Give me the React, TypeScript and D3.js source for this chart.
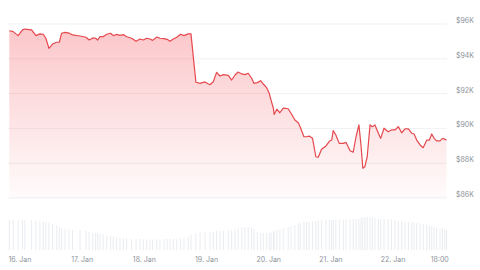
import React from "react";
import * as d3 from "d3";

// hours offset from 16 Jan 00:00 (UTC)
const hours = [
  -4.1, -2.6, -0.7, 1.0, 1.9, 4.5, 6.2, 7.7, 9.0, 10.0, 11.2, 12.6, 14.2, 15.2, 16.1, 17.4, 18.9, 20.3, 23.2, 25.5,
  26.7, 28.1, 29.2, 30.0, 30.9, 32.1, 33.5, 35.0, 36.0, 37.3, 38.6, 39.9, 41.2, 43.1, 44.8, 46.3, 47.6, 48.9, 50.2, 51.2,
  52.8, 54.0, 55.6, 56.8, 57.9, 59.2, 60.5, 62.0, 63.3, 64.9, 66.0, 67.9, 69.5, 71.4, 73.3, 74.6, 75.9, 77.2, 78.5, 80.4,
  81.7, 83.0, 84.2, 85.6, 86.8, 88.1, 89.4, 90.3, 91.6, 92.9, 93.9, 95.2, 96.2, 96.9, 97.8, 98.1, 99.1, 100.3, 101.6, 103.5,
  104.6, 106.1, 107.4, 108.1, 109.6, 110.6, 111.6, 112.9, 114.2, 115.1, 116.4, 118.1, 119.4, 120.3, 120.9, 121.9, 123.2, 124.8, 125.8, 127.4,
  128.6, 129.7, 130.8, 131.6, 132.3, 133.1, 134.0, 135.1, 136.0, 137.0, 138.3, 139.2, 140.5, 142.1, 143.4, 144.7, 146.0, 147.3, 148.6, 149.9,
  151.2, 152.1, 153.1, 154.4, 155.6, 157.0, 158.0, 158.9, 159.8, 160.8, 162.1, 163.1, 164.0, 164.6,
];

// price in $K
const prices = [
  95.61, 95.56, 95.33, 95.66, 95.71, 95.66, 95.33, 95.43, 95.41, 95.18, 94.6, 94.85, 94.95, 94.95, 95.47, 95.52, 95.48, 95.37, 95.31, 95.24,
  95.08, 95.2, 95.18, 95.08, 95.27, 95.27, 95.41, 95.47, 95.33, 95.4, 95.35, 95.39, 95.27, 95.18, 95.01, 95.14, 95.08, 95.18, 95.14, 95.06,
  95.25, 95.18, 95.16, 95.12, 95.01, 95.14, 95.24, 95.41, 95.33, 95.43, 95.43, 92.65, 92.59, 92.67, 92.51, 92.68, 93.22, 93.01, 93.09, 93.05,
  92.78, 93.07, 93.24, 93.13, 93.09, 93.17, 92.88, 92.59, 92.63, 92.74, 92.55, 92.34, 92.02, 91.63, 91.16, 90.8, 91.1, 90.9, 91.17, 91.13,
  90.87, 90.48, 90.33, 90.1, 89.52, 89.52, 89.56, 89.43, 88.37, 88.34, 88.8, 88.99, 89.26, 89.33, 89.87, 89.62, 89.14, 89.14, 89.2, 88.72,
  88.63, 89.52, 90.2, 89.05, 87.71, 87.8, 88.37, 90.2, 90.1, 90.2, 89.72, 89.43, 90.01, 89.81, 89.91, 89.91, 90.1, 89.75, 89.97, 89.97,
  89.72, 89.68, 89.33, 89.05, 88.89, 89.33, 89.33, 89.68, 89.43, 89.28, 89.28, 89.43, 89.37, 89.33,
];

// 24h volume ($B), same timestamps
const volumes = [
  60, 60, 59, 60, 59, 60, 59, 58, 57, 56, 55, 52, 49, 46, 44, 42, 41, 40, 40, 38,
  36, 35, 34, 34, 33, 31, 29, 28, 27, 25, 24, 23, 23, 22, 22, 22, 21, 21, 21, 21,
  21, 21, 22, 22, 22, 22, 22, 23, 24, 26, 30, 34, 35, 36, 36, 37, 38, 38, 39, 40,
  40, 41, 43, 45, 46, 46, 46, 42, 36, 34, 34, 34, 34, 35, 36, 38, 40, 42, 44, 46,
  48, 50, 53, 55, 56, 56, 56, 57, 58, 59, 60, 60, 60, 60, 60, 61, 61, 61, 61, 62,
  62, 62, 63, 64, 65, 66, 66, 66, 64, 63, 62, 62, 62, 62, 61, 60, 58, 57, 56, 56,
  55, 55, 54, 53, 52, 50, 48, 47, 46, 45, 44, 43, 42, 40,
];

const yTicks = [86, 88, 90, 92, 94, 96];
const xTickHours = [0, 24, 48, 72, 96, 120, 144, 162];
const xTickLabels = ["16. Jan", "17. Jan", "18. Jan", "19. Jan", "20. Jan", "21. Jan", "22. Jan", "18:00"];

const base = Date.UTC(2025, 0, 16, 0, 0, 0);
const toDate = (h: number) => new Date(base + h * 3600000);

export default function App() {
  const W = 480;
  const H = 270;
  const data = hours.map((h, i) => ({ t: toDate(h), p: prices[i], v: volumes[i] }));

  const x = d3.scaleUtc().domain([toDate(hours[0]), toDate(hours[hours.length - 1])]).range([9.3, 446.5]);
  const y = d3.scaleLinear().domain([86, 96]).range([198, 24]);
  const yv = d3.scaleLinear().domain([0, 70]).range([250, 215]);

  const line = d3
    .line<{ t: Date; p: number }>()
    .x((d) => x(d.t))
    .y((d) => y(d.p));
  const area = d3
    .area<{ t: Date; p: number }>()
    .x((d) => x(d.t))
    .y0(y(86))
    .y1((d) => y(d.p));

  const font = "Inter, 'Noto Sans', sans-serif";
  const labelColor = "#8e939b";

  return (
    <svg width={W} height={H} style={{ position: "absolute", left: 0, top: 0, background: "#fff" }}>
      <defs>
        <linearGradient id="areaGrad" gradientUnits="userSpaceOnUse" x1="0" y1={y(96)} x2="0" y2={y(86)}>
          <stop offset="0" stopColor="#f43f4a" stopOpacity={0.3} />
          <stop offset="1" stopColor="#f43f4a" stopOpacity={0.02} />
        </linearGradient>
      </defs>
      {yTicks.map((t) => (
        <line key={"g" + t} x1={8} x2={447} y1={y(t)} y2={y(t)} stroke="#f0f1f3" strokeWidth={1} />
      ))}
      {yTicks.map((t) => (
        <text key={"l" + t} x={456} y={y(t) - 1} fontSize={7} fill={labelColor} fontFamily={font}>
          {"$" + t + "K"}
        </text>
      ))}
      {data.map((d, i) => (
        <rect
          key={"v" + i}
          x={x(d.t) - 0.5}
          width={1}
          y={yv(d.v)}
          height={yv(0) - yv(d.v)}
          fill="#e9ecf0"
        />
      ))}
      <path d={area(data) || ""} fill="url(#areaGrad)" />
      <path d={line(data) || ""} fill="none" stroke="#e5484d" strokeWidth={1.2} strokeLinejoin="round" />
      {xTickHours.map((h, i) => (
        <text
          key={"x" + i}
          x={x(toDate(h))}
          y={262}
          fontSize={7}
          fill={labelColor}
          fontFamily={font}
          textAnchor="middle"
        >
          {xTickLabels[i]}
        </text>
      ))}
    </svg>
  );
}
